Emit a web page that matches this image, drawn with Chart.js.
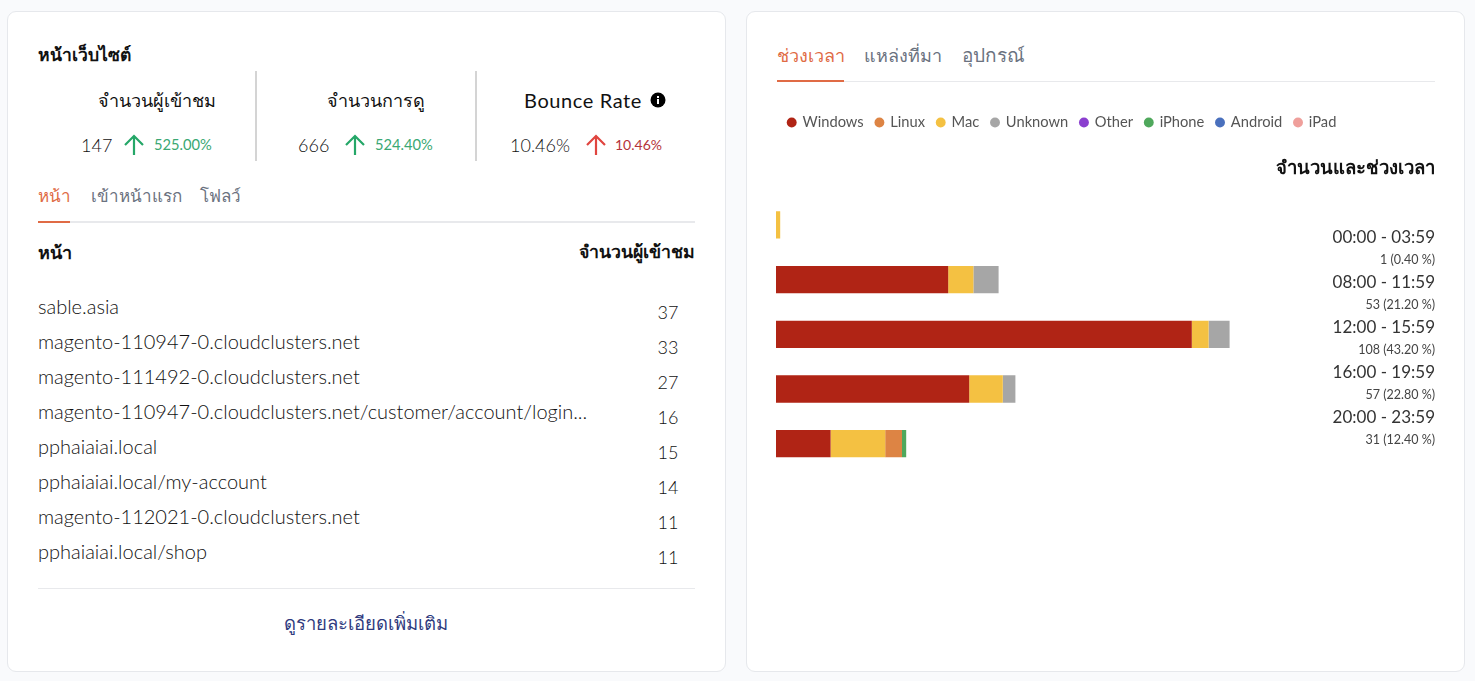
<!DOCTYPE html>
<html>
<head>
<meta charset="utf-8">
<title>Dashboard</title>
<script src="https://cdn.jsdelivr.net/npm/chart.js@4"></script>
<style>
  html, body { margin: 0; padding: 0; background: #f9fafc; }
  body { position: relative; width: 1475px; height: 681px; overflow: hidden; font-family: Lato, "Noto Sans", sans-serif; color: #222; }
  .card { position: absolute; top: 11px; width: 717px; height: 659px; background: #fff; border: 1px solid #e6e8ec; border-radius: 9px; }
  .t { position: absolute; transform: translateY(-50%); white-space: nowrap; }
  .r { transform: translate(-100%, -50%); }
  .c { transform: translate(-50%, -50%); }
  .tab { font-size: 17px; color: #6b7280; }
  .tab.on { color: #e06b45; }
  .kpi { font-size: 18px; color: #111; }
  .val { font-size: 18px; font-weight: 300; color: #111; }
  .pct { font-size: 14.7px; }
  .bold { font-weight: 700; font-size: 18px; color: #111; }
  .rule { position: absolute; height: 2px; background: #e8e9ec; }
  .accent { position: absolute; height: 2px; background: #e06b45; }
  .div { position: absolute; top: 71px; width: 2px; height: 90px; background: #d4d4d4; }
  svg { position: absolute; }
  #timeChart { position: absolute; left: 776px; top: 103px; }
</style>
</head>
<body>
<div class="card" style="left:7px"></div>
<div class="card" style="left:746px"></div>

<div class="t bold" style="left:38px;top:55px;font-size:17.5px">หน้าเว็บไซต์</div>

<div class="t c kpi" style="left:157px;top:100px">จำนวนผู้เข้าชม</div>
<div class="t c kpi" style="left:376px;top:100px">จำนวนการดู</div>
<div class="t kpi" style="left:524px;top:100px;font-size:20px;letter-spacing:.6px">Bounce Rate</div>
<svg style="left:650px;top:92px" width="16" height="16" viewBox="0 0 16 16"><circle cx="8" cy="8" r="7.5" fill="#000"/><rect x="7" y="7" width="2" height="5" fill="#fff"/><rect x="7" y="4" width="2" height="2" fill="#fff"/></svg>
<div class="div" style="left:255px"></div>
<div class="div" style="left:475px"></div>

<div class="t val" style="left:81px;top:145px">147</div>
<svg style="left:123px;top:134px" width="22" height="22" viewBox="0 0 22 22"><path d="M11 21V2M2 11l9-9 9 9" fill="none" stroke="#25a768" stroke-width="2.2"/></svg>
<div class="t pct" style="left:154px;top:144px;color:#3aa873">525.00%</div>
<div class="t val" style="left:298px;top:145px">666</div>
<svg style="left:344px;top:134px" width="22" height="22" viewBox="0 0 22 22"><path d="M11 21V2M2 11l9-9 9 9" fill="none" stroke="#25a768" stroke-width="2.2"/></svg>
<div class="t pct" style="left:375px;top:144px;color:#3aa873">524.40%</div>
<div class="t val" style="left:510px;top:145px">10.46%</div>
<svg style="left:585px;top:134px" width="22" height="22" viewBox="0 0 22 22"><path d="M11 21V2M2 11l9-9 9 9" fill="none" stroke="#e0453f" stroke-width="2.2"/></svg>
<div class="t pct" style="left:615px;top:144px;font-size:14px;color:#b5343a">10.46%</div>

<div class="t tab on" style="left:38px;top:195px">หน้า</div>
<div class="t tab" style="left:91px;top:195px">เข้าหน้าแรก</div>
<div class="t tab" style="left:200px;top:195px">โฟลว์</div>
<div class="rule" style="left:38px;top:221px;width:657px"></div>
<div class="accent" style="left:38px;top:221px;width:32px"></div>

<div class="t bold" style="left:38px;top:252px">หน้า</div>
<div class="t r bold" style="left:695px;top:252px;font-size:17.7px">จำนวนผู้เข้าชม</div>
<div id="pageRows"></div>
<div class="rule" style="left:38px;top:588px;width:657px;height:1px"></div>
<div class="t c" style="left:366px;top:623px;font-size:18.5px;color:#2f3a7e">ดูรายละเอียดเพิ่มเติม</div>

<div class="t tab on" style="left:777px;top:55px;font-size:18px">ช่วงเวลา</div>
<div class="t tab" style="left:864px;top:55px;font-size:18px">แหล่งที่มา</div>
<div class="t tab" style="left:962px;top:55px;font-size:19px">อุปกรณ์</div>
<div class="rule" style="left:777px;top:81px;width:658px;height:1px"></div>
<div class="accent" style="left:777px;top:80px;width:67px"></div>

<canvas id="timeChart" width="659" height="385"></canvas>

<script>
const pageNames = [
  "sable.asia",
  "magento-110947-0.cloudclusters.net",
  "magento-111492-0.cloudclusters.net",
  "magento-110947-0.cloudclusters.net/customer/account/login...",
  "pphaiaiai.local",
  "pphaiaiai.local/my-account",
  "magento-112021-0.cloudclusters.net",
  "pphaiaiai.local/shop"
];
const pageCounts = [37, 33, 27, 16, 15, 14, 11, 11];

const timeRanges = ["00:00 - 03:59", "08:00 - 11:59", "12:00 - 15:59", "16:00 - 19:59", "20:00 - 23:59"];
const rangeNotes = ["1 (0.40 %)", "53 (21.20 %)", "108 (43.20 %)", "57 (22.80 %)", "31 (12.40 %)"];

const windowsValues = [0, 41, 99, 46, 13];
const linuxValues = [0, 0, 0, 0, 4];
const macValues = [1, 6, 4, 8, 13];
const unknownValues = [0, 6, 5, 3, 0];
const otherValues = [0, 0, 0, 0, 0];
const iphoneValues = [0, 0, 0, 0, 1];
const androidValues = [0, 0, 0, 0, 0];
const ipadValues = [0, 0, 0, 0, 0];

// page table on the left
const rows = document.getElementById("pageRows");
pageNames.forEach((name, i) => {
  const label = document.createElement("div");
  label.className = "t";
  label.style.cssText = `left:38px;top:${305.5 + i * 35}px;font-size:20px;font-weight:300;color:#111`;
  label.textContent = name;
  rows.appendChild(label);
  const count = document.createElement("div");
  count.className = "t c";
  count.style.cssText = `left:668px;top:${312 + i * 35}px;font-size:18px;font-weight:300;color:#111`;
  count.textContent = pageCounts[i];
  rows.appendChild(count);
});

// second line under each range label, tick font is one size only
const rangeNotesPlugin = {
  id: "rangeNotes",
  afterDraw(chart) {
    const { ctx, scales: { rangeAxis } } = chart;
    ctx.save();
    ctx.font = "12.5px Lato, sans-serif";
    ctx.fillStyle = "#444";
    ctx.textAlign = "right";
    ctx.textBaseline = "middle";
    rangeNotes.forEach((note, i) => {
      ctx.fillText(note, chart.width, rangeAxis.getPixelForValue(i) + 13.5);
    });
    ctx.restore();
  }
};

new Chart(document.getElementById("timeChart"), {
  type: "bar",
  plugins: [rangeNotesPlugin],
  data: {
    labels: timeRanges,
    datasets: [
      { label: "Windows", data: windowsValues, backgroundColor: "#b02415", order: 0 },
      { label: "Linux", data: linuxValues, backgroundColor: "#dd8444", order: 2 },
      { label: "Mac", data: macValues, backgroundColor: "#f4c142", order: 1 },
      { label: "Unknown", data: unknownValues, backgroundColor: "#a6a6a6", order: 3 },
      { label: "Other", data: otherValues, backgroundColor: "#8b3fcf", order: 4 },
      { label: "iPhone", data: iphoneValues, backgroundColor: "#4fa85c", order: 5 },
      { label: "Android", data: androidValues, backgroundColor: "#4a70bd", order: 6 },
      { label: "iPad", data: ipadValues, backgroundColor: "#ef9f9b", order: 7 }
    ]
  },
  options: {
    indexAxis: "y",
    responsive: false,
    animation: false,
    barPercentage: 0.5,
    categoryPercentage: 1,
    layout: { padding: 0 },
    scales: {
      x: { stacked: true, display: false, min: 0, max: 120 },
      y: { stacked: true, display: false },
      // labels run slightly wider apart than the bars, so they get their own axis
      rangeAxis: {
        type: "linear",
        axis: "y",
        position: "right",
        reverse: true,
        bounds: "data",
        min: -0.478,
        max: 4.389,
        grid: { display: false },
        border: { display: false },
        afterBuildTicks(scale) { scale.ticks = timeRanges.map((_, i) => ({ value: i })); },
        afterFit(scale) { scale.width = 155; },
        ticks: {
          crossAlign: "far",
          padding: 0,
          color: "#333",
          font: { family: "Lato, sans-serif", size: 17, lineHeight: 1 },
          // empty second line lifts the range label, the note sits in that gap
          callback(value) { return [timeRanges[value], ""]; }
        }
      }
    },
    plugins: {
      tooltip: { enabled: false },
      legend: {
        position: "top",
        align: "start",
        labels: {
          usePointStyle: true,
          pointStyle: "circle",
          boxWidth: 7,
          boxHeight: 7,
          padding: 12.2,
          color: "#555",
          font: { family: "Lato, sans-serif", size: 14.7 },
          sort: (a, b) => a.datasetIndex - b.datasetIndex
        }
      },
      title: {
        display: true,
        text: "จำนวนและช่วงเวลา",
        align: "end",
        weight: 500,
        color: "#111",
        font: { family: "Lato, 'Noto Sans', sans-serif", size: 18.5, weight: "bold" },
        padding: { top: 17, bottom: 18.5 }
      }
    }
  }
});
</script>
</body>
</html>
